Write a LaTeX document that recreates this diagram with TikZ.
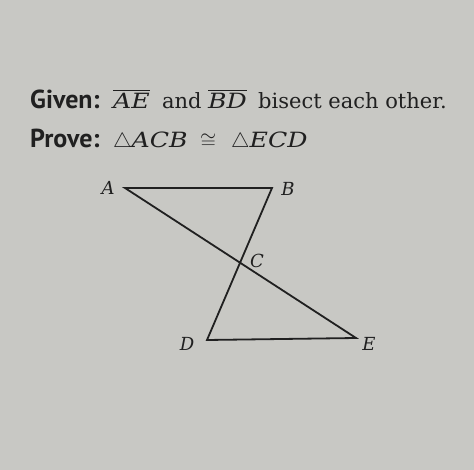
\documentclass[tikz,border=0pt]{standalone}
\usepackage{fontspec}
\newfontfamily\hdr{PT Sans}
\newfontfamily\bodyf{DejaVu Serif}
\usepackage{amssymb}
\usepackage{graphicx}
\definecolor{bg}{RGB}{200,200,196}
\definecolor{ink}{RGB}{32,32,32}
\newcommand{\itx}[1]{\scalebox{1.2}[1]{\bodyf\itshape #1}}
\newcommand{\segx}[1]{$\overline{\mbox{\itx{#1}}}$}
\tikzset{
  segline/.style={draw=ink, line width=1.8pt, line join=miter},
  vlab/.style={text=ink, inner sep=0pt, font=\bodyf\itshape\fontsize{18}{18}\selectfont},
  txt/.style={text=ink, inner sep=0pt, anchor=base west, font=\bodyf\fontsize{21}{21}\selectfont},
  hd/.style={text=ink, inner sep=0pt, anchor=base west, font=\hdr\bfseries\fontsize{26}{26}\selectfont}
}
\begin{document}
\begin{tikzpicture}[x=1pt,y=-1pt]
\fill[bg] (0,0) rectangle (474,470);
\useasboundingbox (0,0) rectangle (474,470);
\node[hd] (given) at (30,109) {Given:};
\node[txt] (ae) at (113,109) {\segx{AE}};
\node[txt] (and) at (162,109) {and};
\node[txt] (bd) at (208,109) {\segx{BD}};
\node[txt] (rest) at (258,109) {bisect each other.};
\node[hd] (prove) at (30,148) {Prove:};
\node[txt] (t1) at (113,148) {$\triangle$\itx{ACB}};
\node[txt] (cong) at (200,148) {$\cong$};
\node[txt] (t2) at (231,148) {$\triangle$\itx{ECD}};
\coordinate (A) at (125,188);
\coordinate (B) at (272,188);
\coordinate (D) at (207,340);
\coordinate (E) at (356,338);
\coordinate (C) at (intersection of A--E and B--D);
\draw[segline] (A) -- (B) -- (D) -- (E) -- cycle;
\node[vlab] (lA) at (108,188) {A};
\node[vlab] (lB) at (288,189) {B};
\node[vlab] (lC) at (257,261) {C};
\node[vlab] (lD) at (187,344) {D};
\node[vlab] (lE) at (369,344) {E};
\end{tikzpicture}
\end{document}
